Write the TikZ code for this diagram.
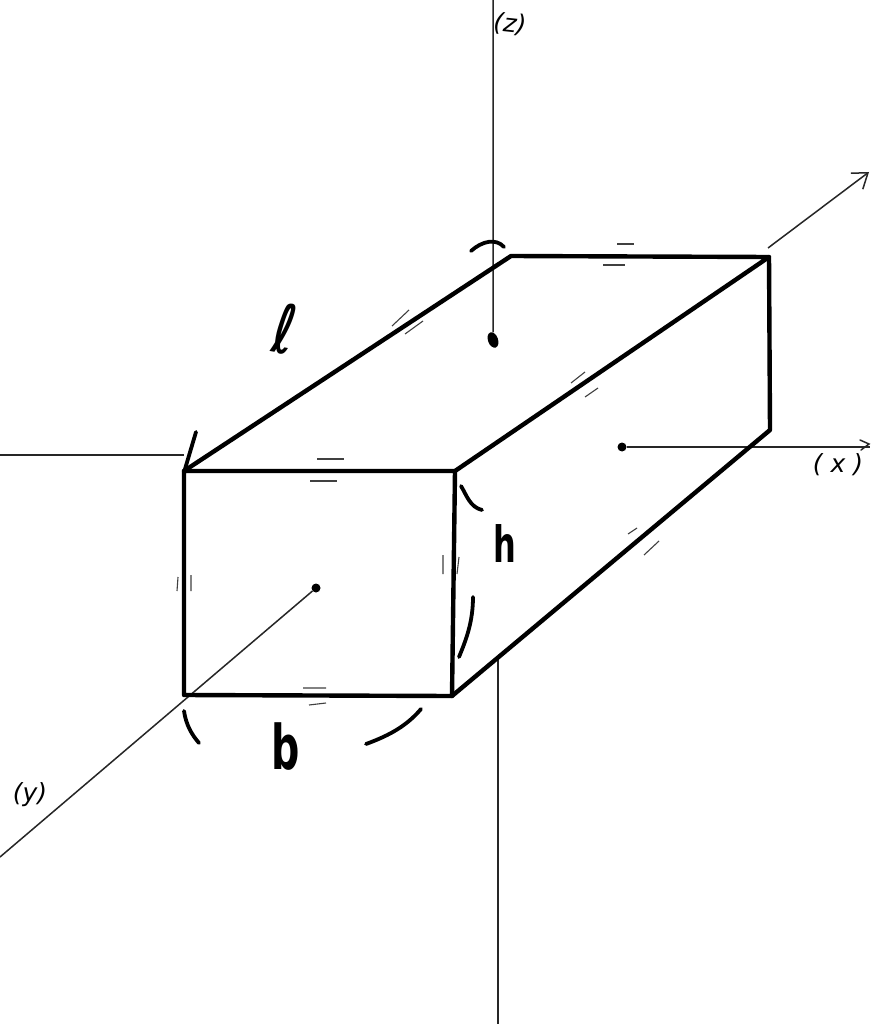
\documentclass[tikz,border=0pt]{standalone}
\usepackage{fontspec}
\setmainfont{DejaVu Sans}
\usetikzlibrary{arrows.meta}
\tikzset{
  edgeline/.style={line width=4.4pt,line cap=round,line join=round,black},
  axisline/.style={line width=1.5pt,black!85},
  tickline/.style={line width=1.1pt,black!75},
  penstroke/.style={line width=3.8pt,line cap=round,black},
  dotmark/.style={circle,fill=black,inner sep=0pt,minimum size=10pt},
  biglabel/.style={inner sep=0pt,font=\bfseries\fontsize{40}{40}\selectfont},
  smalllabel/.style={inner sep=0pt,font=\itshape\fontsize{25}{25}\selectfont}
}
\begin{document}
\begin{tikzpicture}[x=1pt,y=-1pt]
\useasboundingbox (0,0) rectangle (870,1024);
\fill[white] (0,0) rectangle (870,1024);
% corners
\coordinate (A) at (184,471);
\coordinate (B) at (455,471);
\coordinate (C) at (452,696);
\coordinate (D) at (184,695);
\coordinate (E) at (511,256);
\coordinate (F) at (769,257);
\coordinate (G) at (770,430);
% axis ends
\coordinate (ztop) at (493,0);
\coordinate (zlow) at (498,660);
\coordinate (zbot) at (498,1024);
\coordinate (yend) at (0,857);
\coordinate (xend) at (870,447);
\coordinate (xback) at (0,455);
\coordinate (xbackend) at (184,455);
\coordinate (dirstart) at (768,248);
\coordinate (dirend) at (869,172);
\coordinate (hooka) at (860,440);
\coordinate (hookb) at (869,444);
\coordinate (hookc) at (861,450);
\node[dotmark,minimum size=10pt,rotate=20,yscale=1.6] (zdot) at (493,340) {};
\node[dotmark,minimum size=9pt] (ydot) at (316,588) {};
\node[dotmark,minimum size=9pt] (xdot) at (622,447) {};
% axes
\draw[axisline] (ztop) -- (zdot);
\draw[axisline] (zlow) -- (zbot);
\draw[axisline] (ydot) -- (yend);
\draw[axisline] (xdot) -- (xend);
\draw[axisline] (xback) -- (xbackend);
\draw[axisline,-{Straight Barb[length=14pt,width=20pt,line width=1.5pt]}] (dirstart) -- (dirend);
\draw[axisline,line cap=round] (hooka) -- (hookb) -- (hookc);
% box
\draw[edgeline] (A) -- (B) -- (C) -- (D) -- cycle;
\draw[edgeline] (A) -- (E) -- (F) -- (B);
\draw[edgeline] (F) -- (G) -- (C);
% ticks
\draw[tickline] (617,244) -- (634,244) (603,265) -- (625,265);
\draw[tickline] (392,326) -- (409,310) (405,334) -- (423,321);
\draw[tickline] (317,459) -- (344,459) (310,481) -- (337,481);
\draw[tickline] (571,383) -- (585,372) (585,397) -- (598,388);
\draw[tickline] (628,534) -- (637,528) (644,555) -- (659,541);
\draw[tickline] (178,577) -- (177,591) (191,575) -- (191,591);
\draw[tickline] (443,555) -- (443,574) (459,557) -- (457,574);
\draw[tickline] (303,688) -- (326,688) (309,705) -- (326,703);
% dimension strokes
\draw[penstroke] (471,251) .. controls (482,241) and (496,238) .. (504,247);
\draw[penstroke] (185,469) -- (196,432);
\draw[penstroke] (461,486) .. controls (467,496) and (470,507) .. (482,510);
\draw[penstroke] (473,597) .. controls (473,622) and (466,640) .. (459,657);
\draw[penstroke] (184,711) .. controls (186,725) and (192,735) .. (199,743);
\draw[penstroke] (421,709) .. controls (405,728) and (385,737) .. (366,744);
% labels
\node[biglabel,rotate=-10,xscale=1.1,yscale=1.7] (lbll) at (285,329) {ℓ};
\node[biglabel,xscale=.8,yscale=1.25] (lblh) at (505,543) {h};
\node[biglabel,font=\bfseries\fontsize{44}{44}\selectfont,xscale=.9,yscale=1.4] (lblb) at (286,747) {b};
\node[smalllabel,rotate=-6] (lblz) at (510,24) {(z)};
\node[smalllabel] (lblx) at (838,465) {( x )};
\node[smalllabel] (lbly) at (30,795) {(y)};
\end{tikzpicture}
\end{document}
